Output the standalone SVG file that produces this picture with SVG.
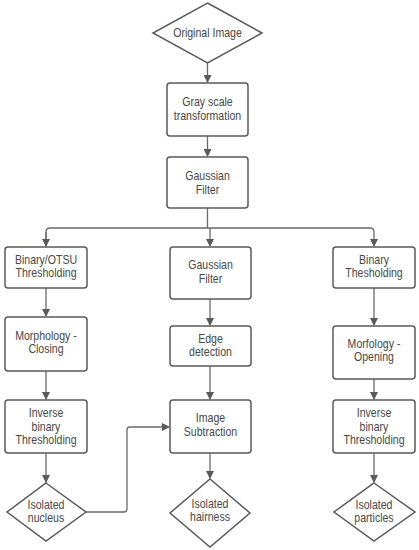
<svg xmlns="http://www.w3.org/2000/svg" width="419" height="550" viewBox="0 0 419 550">
<defs>
<marker id="ah" markerWidth="8" markerHeight="8" refX="7" refY="4" orient="auto" markerUnits="userSpaceOnUse">
<path d="M0,0 L8,4 L0,8 Z" fill="#5a5a5a"/>
</marker>
<style>
.n{fill:#fff;stroke:#5a5a5a;stroke-width:1.5}
.t{font-family:"Liberation Sans",Arial,sans-serif;font-size:12px;fill:#484848;text-anchor:middle}
.c{fill:none;stroke:#6a6a6a;stroke-width:1.3}
</style>
</defs>
<rect width="419" height="550" fill="#fff"/>
<g id="connectors">
<path class="c" d="M207.5,63 V82" marker-end="url(#ah)"/>
<path class="c" d="M207.5,136 V156" marker-end="url(#ah)"/>
<path class="c" d="M207.5,208 V228"/>
<path class="c" d="M46,246 V232 Q46,228 50,228 H370 Q374,228 374,232 V246" marker-end="url(#ah)"/>
<path class="c" d="M46,232 V246" marker-end="url(#ah)"/>
<path class="c" d="M210,228 V246" marker-end="url(#ah)"/>
<path class="c" d="M46,288 V316" marker-end="url(#ah)"/>
<path class="c" d="M46,371 V399" marker-end="url(#ah)"/>
<path class="c" d="M46,453 V482" marker-end="url(#ah)"/>
<path class="c" d="M210,299 V325" marker-end="url(#ah)"/>
<path class="c" d="M210,366 V399" marker-end="url(#ah)"/>
<path class="c" d="M210,453 V478" marker-end="url(#ah)"/>
<path class="c" d="M374,288 V325" marker-end="url(#ah)"/>
<path class="c" d="M374,379 V399" marker-end="url(#ah)"/>
<path class="c" d="M374,453 V482" marker-end="url(#ah)"/>
<path class="c" d="M86,512 H124 Q127,512 127,509 V430 Q127,427 130,427 H169" marker-end="url(#ah)"/>
</g>
<g id="original">
<polygon class="n" points="207.5,3 262,33 207.5,63 153,33"/>
<text class="t" transform="translate(207.5 37) scale(0.88 1)">Original Image</text>
</g>
<g id="grayscale">
<rect class="n" x="167" y="83" width="81" height="53" rx="3"/>
<text class="t" transform="translate(207.5 106) scale(0.88 1)">Gray scale</text>
<text class="t" transform="translate(207.5 120) scale(0.88 1)">transformation</text>
</g>
<g id="gauss1">
<rect class="n" x="167" y="157" width="81" height="51" rx="3"/>
<text class="t" transform="translate(207.5 180) scale(0.88 1)">Gaussian</text>
<text class="t" transform="translate(207.5 194) scale(0.88 1)">Filter</text>
</g>
<g id="otsu">
<rect class="n" x="5" y="247" width="82" height="41" rx="3"/>
<text class="t" transform="translate(46 264) scale(0.88 1)">Binary/OTSU</text>
<text class="t" transform="translate(46 277) scale(0.88 1)">Thresholding</text>
</g>
<g id="gauss2">
<rect class="n" x="170" y="247" width="81" height="52" rx="3"/>
<text class="t" transform="translate(210.5 269) scale(0.88 1)">Gaussian</text>
<text class="t" transform="translate(210.5 283) scale(0.88 1)">Filter</text>
</g>
<g id="binthresh">
<rect class="n" x="333" y="247" width="82" height="41" rx="3"/>
<text class="t" transform="translate(374 264) scale(0.88 1)">Binary</text>
<text class="t" transform="translate(374 277) scale(0.88 1)">Thesholding</text>
</g>
<g id="closing">
<rect class="n" x="5" y="317" width="82" height="54" rx="3"/>
<text class="t" transform="translate(46 340) scale(0.88 1)">Morphology -</text>
<text class="t" transform="translate(46 353) scale(0.88 1)">Closing</text>
</g>
<g id="edge">
<rect class="n" x="170" y="326" width="81" height="40" rx="3"/>
<text class="t" transform="translate(210.5 343) scale(0.88 1)">Edge</text>
<text class="t" transform="translate(210.5 356) scale(0.88 1)">detection</text>
</g>
<g id="opening">
<rect class="n" x="333" y="326" width="82" height="53" rx="3"/>
<text class="t" transform="translate(374 348) scale(0.88 1)">Morfology -</text>
<text class="t" transform="translate(374 361) scale(0.88 1)">Opening</text>
</g>
<g id="inv1">
<rect class="n" x="5" y="400" width="82" height="53" rx="3"/>
<text class="t" transform="translate(46 417) scale(0.88 1)">Inverse</text>
<text class="t" transform="translate(46 431) scale(0.88 1)">binary</text>
<text class="t" transform="translate(46 444) scale(0.88 1)">Thresholding</text>
</g>
<g id="subtraction">
<rect class="n" x="170" y="400" width="81" height="53" rx="3"/>
<text class="t" transform="translate(210.5 422) scale(0.88 1)">Image</text>
<text class="t" transform="translate(210.5 436) scale(0.88 1)">Subtraction</text>
</g>
<g id="inv2">
<rect class="n" x="333" y="400" width="82" height="53" rx="3"/>
<text class="t" transform="translate(374 417) scale(0.88 1)">Inverse</text>
<text class="t" transform="translate(374 431) scale(0.88 1)">binary</text>
<text class="t" transform="translate(374 444) scale(0.88 1)">Thresholding</text>
</g>
<g id="nucleus">
<polygon class="n" points="46,483 86,512 46,541 7,512"/>
<text class="t" transform="translate(46 509) scale(0.88 1)">Isolated</text>
<text class="t" transform="translate(46 522) scale(0.88 1)">nucleus</text>
</g>
<g id="hairness">
<polygon class="n" points="210,479 250,513 210,547 170,513"/>
<text class="t" transform="translate(210 508) scale(0.88 1)">Isolated</text>
<text class="t" transform="translate(210 521) scale(0.88 1)">hairness</text>
</g>
<g id="particles">
<polygon class="n" points="374,483 415,512 374,541 334,512"/>
<text class="t" transform="translate(374 509) scale(0.88 1)">Isolated</text>
<text class="t" transform="translate(374 522) scale(0.88 1)">particles</text>
</g>
</svg>
